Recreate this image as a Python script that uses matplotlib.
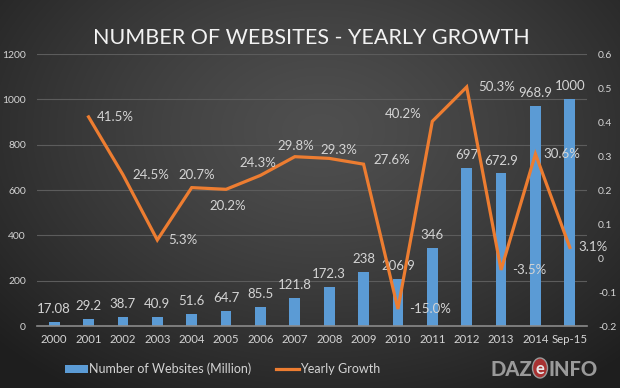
import numpy as np
import matplotlib
matplotlib.use("Agg")
import matplotlib.pyplot as plt
from matplotlib.patches import Patch, Ellipse
from matplotlib.lines import Line2D

categories = ["2000", "2001", "2002", "2003", "2004", "2005", "2006", "2007",
              "2008", "2009", "2010", "2011", "2012", "2013", "2014", "Sep-15"]
websites = [17.08, 29.2, 38.7, 40.9, 51.6, 64.7, 85.5, 121.8, 172.3, 238,
            206.9, 346, 697, 672.9, 968.9, 1000]
bar_labels = ["17.08", "29.2", "38.7", "40.9", "51.6", "64.7", "85.5", "121.8",
              "172.3", "238", "206.9", "346", "697", "672.9", "968.9", "1000"]
growth = [None, 0.415, 0.245, 0.053, 0.207, 0.202, 0.243, 0.298, 0.293, 0.276,
          -0.150, 0.402, 0.503, -0.035, 0.306, 0.031]
growth_labels = [None, "41.5%", "24.5%", "5.3%", "20.7%", "20.2%", "24.3%", "29.8%",
                 "29.3%", "27.6%", "-15.0%", "40.2%", "50.3%", "-3.5%", "30.6%", "3.1%"]
left_ticks = [0, 200, 400, 600, 800, 1000, 1200]
right_ticks = [-0.2, -0.1, 0, 0.1, 0.2, 0.3, 0.4, 0.5, 0.6]
right_tick_labels = ["-0.2", "-0.1", "0", "0.1", "0.2", "0.3", "0.4", "0.5", "0.6"]

FONT = "Lato"
txt_col = "#d4d4d4"
fig = plt.figure(figsize=(6.2, 3.88), dpi=100)

# background radial gradient
bg = fig.add_axes([0, 0, 1, 1], zorder=-10)
yy, xx = np.mgrid[0:388, 0:620]
r = np.sqrt(((xx - 320) / 420.0) ** 2 + ((yy - 130) / 300.0) ** 2)
val = np.clip(0.31 - 0.18 * r ** 1.3, 0.12, 0.31)
img = np.dstack([val, val, val])
bg.imshow(img, extent=[0, 1, 0, 1], aspect="auto", origin="upper")
bg.axis("off")

ax = fig.add_axes([37 / 620, 1 - 326 / 388, 550 / 620, 272 / 388])
ax.patch.set_alpha(0)
x = np.arange(len(categories))
ax.bar(x, websites, width=0.31, color="#5b9bd5", zorder=2)
ax.set_ylim(0, 1200)
ax.set_xlim(-0.5, len(categories) - 0.5)
ax.set_yticks(left_ticks)
ax.set_yticklabels([str(t) for t in left_ticks])
ax.set_xticks(x)
ax.set_xticklabels(categories)
ax.grid(axis="y", color="#5c5c5c", linewidth=0.8, zorder=0)
ax.set_axisbelow(True)
for s in ["top", "right", "left"]:
    ax.spines[s].set_visible(False)
ax.spines["bottom"].set_color("#8a8a8a")
ax.spines["bottom"].set_linewidth(1.2)
ax.tick_params(axis="both", length=0, colors=txt_col, labelsize=7.5)
ax.tick_params(axis="y", pad=8)
ax.tick_params(axis="x", pad=6, labelsize=8.2)
for lab in ax.get_xticklabels() + ax.get_yticklabels():
    lab.set_fontfamily(FONT)

for xi, v, lab in zip(x, websites, bar_labels):
    ax.annotate(lab, (xi, v), xytext=(0, 5), textcoords="offset points",
                ha="center", va="bottom", color=txt_col, fontsize=9.5, family=FONT)

ax2 = ax.twinx()
ax2.set_ylim(-0.2, 0.6)
ax2.set_yticks(right_ticks)
ax2.set_yticklabels(right_tick_labels)
for s in ["top", "right", "left", "bottom"]:
    ax2.spines[s].set_visible(False)
ax2.tick_params(axis="y", length=0, colors=txt_col, labelsize=7.5, pad=8)
for lab in ax2.get_yticklabels():
    lab.set_fontfamily(FONT)

gx = [xi for xi, g in zip(x, growth) if g is not None]
gy = [g for g in growth if g is not None]
ax2.plot(gx, gy, color="#ed7d31", linewidth=2.3, zorder=3, solid_joinstyle="miter")

# label offsets in points (dx, dy, ha)
offs = {1: (6, 0, "left"), 2: (7, 0, "left"), 3: (8, 0, "left"), 4: (4, 9, "center"),
        5: (1, -12, "center"), 6: (-2, 9, "center"), 7: (1, 8, "center"),
        8: (7, 6, "center"), 9: (7, 3, "left"), 10: (8, 0, "left"),
        11: (-8, 5, "right"), 12: (8, 0, "left"), 13: (8, 0, "left"),
        14: (6, 0, "left"), 15: (6, 0, "left")}
for i, (g, lab) in enumerate(zip(growth, growth_labels)):
    if g is None:
        continue
    dx, dy, ha = offs[i]
    ax2.annotate(lab, (i, g), xytext=(dx, dy), textcoords="offset points",
                 ha=ha, va="center", color=txt_col, fontsize=9.5, family=FONT, zorder=5)

fig.text(311 / 620, 1 - 38 / 388, "NUMBER OF WEBSITES - YEARLY GROWTH", ha="center", va="center",
         color="#f2f2f2", fontsize=15.5, family=FONT, fontweight="normal")

handles = [Patch(facecolor="#5b9bd5", edgecolor="none"),
           Line2D([0], [0], color="#ed7d31", linewidth=2.3)]
leg = fig.legend(handles, ["Number of Websites (Million)", "Yearly Growth"],
                 loc="center left", bbox_to_anchor=(54 / 620, 1 - 369 / 388), ncol=2,
                 frameon=False, prop={"family": FONT, "size": 9.0}, handlelength=1.8,
                 handletextpad=0.1, columnspacing=2.0)
for t in leg.get_texts():
    t.set_color(txt_col)

# logo
ly = 1 - 370 / 388
fig.text(532 / 620, ly, "DAZ", ha="right", va="center", color="#9a9a9a",
         fontsize=14.5, family=FONT, fontweight="black")
fig.patches.append(Ellipse((540 / 620, 1 - 368 / 388), 15 / 620, 20 / 388,
                           transform=fig.transFigure, facecolor="#a83232",
                           edgecolor="#9a9a9a", linewidth=1.0))
fig.text(540 / 620, 1 - 368.5 / 388, "e", ha="center", va="center", color="#e8e8e8",
         fontsize=12, family=FONT, fontweight="bold")
fig.text(548 / 620, ly, "INFO", ha="left", va="center", color="#9a9a9a",
         fontsize=14.5, family=FONT, fontweight="black")

fig.savefig("out.png", dpi=100)
